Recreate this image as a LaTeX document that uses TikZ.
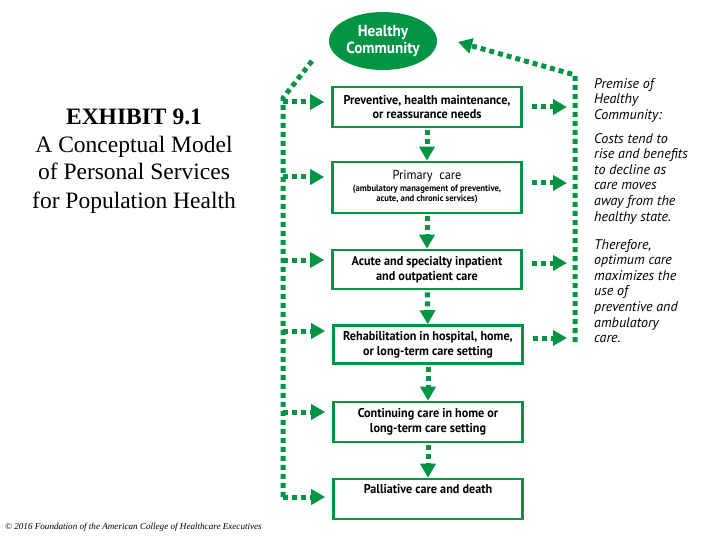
\documentclass[tikz,border=0pt]{standalone}
\usepackage{fontspec}
\setmainfont{Liberation Serif}
\newfontfamily\bfont[FakeStretch=0.95]{PT Sans}
\newfontfamily\ifont{PT Sans}
\usetikzlibrary{arrows.meta,shapes.geometric}
\definecolor{grn}{RGB}{0,148,68}
\begin{document}
\begin{tikzpicture}[x=1pt,y=-1pt,
  box/.style={draw=grn, line width=2.6pt, minimum width=189pt, inner sep=0pt, align=center,
    font=\bfont\bfseries\fontsize{12.8}{14.8}\selectfont},
  dots/.style={draw=grn, line width=5pt, dash pattern=on 5pt off 4pt},
  arr/.style={dots, -{Triangle[length=14pt,width=15pt]}},
  title/.style={anchor=base, inner sep=0pt, font=\fontsize{23.5}{28}\selectfont},
  note/.style={anchor=north west, inner sep=0pt, align=left, font=\ifont\itshape\fontsize{14}{15.6}\selectfont},
]
\useasboundingbox (0,0) rectangle (720,540);

% title
\node[title, font=\bfseries\fontsize{23.5}{28}\selectfont] (t1) at (134,125) {EXHIBIT 9.1};
\node[title] (t2) at (134,152.5) {A Conceptual Model};
\node[title] (t3) at (134,180) {of Personal Services};
\node[title] (t4) at (134,208) {for Population Health};
\node[anchor=base west, inner sep=0pt, font=\itshape\fontsize{9.1}{10}\selectfont] (cp) at (5,529)
  {© 2016 Foundation of the American College of Healthcare Executives};

% ellipse
\node[ellipse, fill=grn, minimum width=108pt, minimum height=58pt, inner sep=0pt, text=white,
  align=center, font=\bfont\bfseries\fontsize{16}{17.5}\selectfont] (hc) at (383,41) {Healthy\\Community};

% boxes
\node[box, minimum height=40pt] (b1) at (427,107) {Preventive, health maintenance,\\or reassurance needs};
\node[box, minimum height=51pt] (b2) at (427,187.5) {{\fontsize{13}{14}\selectfont\mdseries Primary\ \ care}\\[1pt]%
  \fontsize{9.1}{10}\selectfont\begin{tabular}{@{}c@{}}(ambulatory management of preventive,\\acute, and chronic services)\end{tabular}};
\node[box, minimum height=39pt] (b3) at (427,269.5) {Acute and specialty inpatient\\and outpatient care};
\node[box, minimum height=38pt] (b4) at (428,344.5) {Rehabilitation in hospital, home,\\or long-term care setting};
\node[box, minimum height=40pt] (b5) at (428,422) {Continuing care in home or\\long-term care setting};
\node[box, minimum height=40pt] (b6) at (428,499) {Palliative care and death\\\strut};

% vertical arrows
\draw[arr, shorten <=2pt] (b1) -- (b2);
\draw[arr, shorten <=2pt] (b2) -- (b3);
\draw[arr, shorten <=2pt] (b3) -- (b4);
\draw[arr, shorten <=2pt] (b4) -- (b5);
\draw[arr, shorten <=2pt] (b5) -- (b6);

% left distribution line
\coordinate (la) at (312,61);
\coordinate (lt) at (283,98);
\coordinate (lb) at (283,497);
\draw[dots] (la) -- (lt) -- (lb);
\coordinate (l1) at (283,102);
\coordinate (l2) at (283,177);
\coordinate (l3) at (283,260);
\coordinate (l4) at (283,331);
\coordinate (l5) at (283,412);
\coordinate (l6) at (283,497);
\draw[arr, shorten >=7pt] (l1) -- (l1 -| b1.west);
\draw[arr, shorten >=7pt] (l2) -- (l2 -| b2.west);
\draw[arr, shorten >=7pt] (l3) -- (l3 -| b3.west);
\draw[arr, shorten >=7pt] (l4) -- (l4 -| b4.west);
\draw[arr, shorten >=7pt] (l5) -- (l5 -| b5.west);
\draw[arr, shorten >=7pt] (l6) -- (l6 -| b6.west);

% right collecting line
\coordinate (rt) at (575,75);
\coordinate (rb) at (575,342);
\coordinate (hcr) at (458,42);
\draw[arr] (rb) -- (rt) -- (hcr);
\coordinate (r1) at (575,107);
\coordinate (r2) at (575,183);
\coordinate (r3) at (575,263);
\coordinate (r4) at (575,338);
\draw[arr, shorten <=9pt, shorten >=8pt] (r1 -| b1.east) -- (r1);
\draw[arr, shorten <=9pt, shorten >=8pt] (r2 -| b2.east) -- (r2);
\draw[arr, shorten <=9pt, shorten >=8pt] (r3 -| b3.east) -- (r3);
\draw[arr, shorten <=9pt, shorten >=8pt] (r4 -| b4.east) -- (r4);

% notes
\node[note] (n1) at (594,78) {Premise of\\Healthy\\Community:};
\node[note] (n2) at (594,133) {Costs tend to\\rise and benefits\\to decline as\\care moves\\away from the\\healthy state.};
\node[note] (n3) at (594,239) {Therefore,\\optimum care\\maximizes the\\use of\\preventive and\\ambulatory\\care.};
\end{tikzpicture}
\end{document}
